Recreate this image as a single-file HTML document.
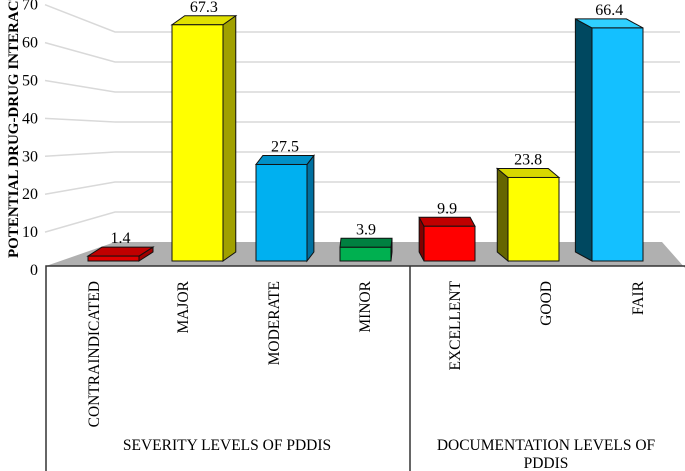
<!DOCTYPE html>
<html><head><meta charset="utf-8"><style>
html,body{margin:0;padding:0;background:#fff;}
svg{display:block;font-family:"Liberation Serif",serif;}
</style></head><body>
<svg id="chart" width="685" height="471" viewBox="0 0 685 471">
<g id="grid"></g>
<polygon points="46,266 115,242 662,242 685,268 685,266" fill="#b0b0b0"/>
<g id="bars"></g>
<g id="ticks"></g>
<text transform="translate(18,258) rotate(-90)" text-anchor="start" font-size="15" font-weight="bold">POTENTIAL DRUG-DRUG INTERACTIONS</text>
<rect x="46" y="266" width="640" height="210" fill="none" stroke="#333" stroke-width="1.5"/>
<line x1="410" y1="266" x2="410" y2="471" stroke="#333" stroke-width="1.5"/>
<g id="cats"></g>
<text x="227" y="450" text-anchor="middle" font-size="15.5">SEVERITY LEVELS OF PDDIS</text>
<text x="546" y="450" text-anchor="middle" font-size="15.5">DOCUMENTATION LEVELS OF</text>
<text x="546" y="468" text-anchor="middle" font-size="15.5">PDDIS</text>
</svg>
<script>
const categories = ["CONTRAINDICATED","MAJOR","MODERATE","MINOR","EXCELLENT","GOOD","FAIR"];
const values = [1.4, 67.3, 27.5, 3.9, 9.9, 23.8, 66.4];
const tickValues = [0,10,20,30,40,50,60,70];
const NS="http://www.w3.org/2000/svg";
const front=["#e00000","#ffff00","#00b0f0","#00b050","#ff0000","#ffff00","#14c0ff"];
const side=["#a00000","#a0a000","#0070a0","#007a3a","#800000","#666600","#004860"];
const topc=["#c00000","#e0e000","#0090c8","#008040","#c00000","#d8d800","#30d0ff"];
const yFront=v=>261-v*3.51;
const yBack=v=>242-v*3.0;
const yTick=v=>270-v*3.79;
const xBar=i=>88+i*84;
const bw=51;
function mk(tag,attrs,parent){const e=document.createElementNS(NS,tag);for(const k in attrs)e.setAttribute(k,attrs[k]);parent.appendChild(e);return e;}
const grid=document.getElementById('grid'),ticks=document.getElementById('ticks'),bars=document.getElementById('bars'),cats=document.getElementById('cats');
tickValues.forEach(v=>{
  if(v>0){
    const p=mk('polyline',{points:`45,${yTick(v)} 115,${yBack(v)} 680,${yBack(v)}`,fill:'none',stroke:'#d9d9d9','stroke-width':1.5},grid);
    
    
  }
  const t=mk('text',{x:38,y:yTick(v)+5,'text-anchor':'end','font-size':16},ticks);
  t.textContent=v;
  
  
});
values.forEach((v,i)=>{
  const x0=xBar(i),x1=x0+bw,cx=x0+bw/2;
  const dx=Math.max(-22,Math.min(14,(380-cx)*0.07)),dy=-9;
  const yb=261,yt=yFront(v);
  const g=mk('g',{},bars);
  
  
  const sx=dx>=0?x1:x0;
  mk('polygon',{points:`${sx},${yb} ${sx+dx},${yb+dy} ${sx+dx},${yt+dy} ${sx},${yt}`,fill:side[i],stroke:'#111','stroke-width':1},g);
  mk('polygon',{points:`${x0},${yt} ${x0+dx},${yt+dy} ${x1+dx},${yt+dy} ${x1},${yt}`,fill:topc[i],stroke:'#111','stroke-width':1},g);
  mk('rect',{x:x0,y:yt,width:bw,height:yb-yt,fill:front[i],stroke:'#111','stroke-width':1},g);
  const t=mk('text',{x:cx+dx/2,y:yt+dy-4,'text-anchor':'middle','font-size':16},g);
  t.textContent=v.toFixed(1);
  
  
});
const labelX=[94,183,274,365,455,546,638];
categories.forEach((c,i)=>{
  const t=mk('text',{transform:`translate(${labelX[i]+5},281) rotate(-90)`,'text-anchor':'end','font-size':15.5},cats);
  t.textContent=c;
  
  
});
</script>
</body></html>
